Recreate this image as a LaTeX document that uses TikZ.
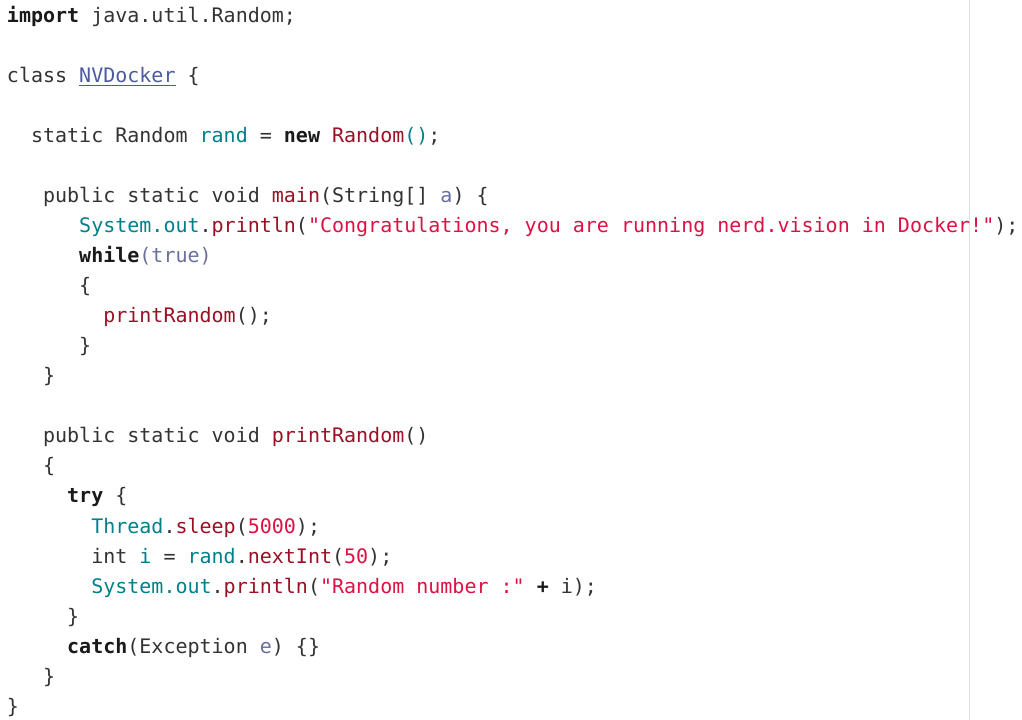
\documentclass[tikz,border=0pt]{standalone}
\usepackage{fontspec}
\newfontfamily\cm{DejaVu Sans Mono}
\definecolor{base}{HTML}{333333}
\definecolor{kw}{HTML}{1A1A1A}
\definecolor{tl}{HTML}{00808A}
\definecolor{dr}{HTML}{9B1024}
\definecolor{st}{HTML}{DD1144}
\definecolor{pa}{HTML}{6A6F9E}
\definecolor{cl}{HTML}{4C5BA0}
\newcommand\K[1]{\textbf{\textcolor{kw}{#1}}}
\newcommand\T[1]{\textcolor{tl}{#1}}
\newcommand\R[1]{\textcolor{dr}{#1}}
\newcommand\St[1]{\textcolor{st}{#1}}
\newcommand\Pa[1]{\textcolor{pa}{#1}}
\begin{document}
\begin{tikzpicture}[x=0.75pt,y=-0.75pt,
  ln/.style={anchor=base west,inner sep=0pt,outer sep=0pt,font=\cm\fontsize{15pt}{18pt}\selectfont,text=base}]
\useasboundingbox[fill=white] (0,0) rectangle (1022,720);
\draw[draw=black!12,line width=0.75pt] (969,0) -- (969,720);
\def\cw{12.04}
\node[ln] (l1) at (7,23) {\K{import} java.util.Random;};
\node[ln] (l3) at (7,83) {class \textcolor{cl}{\underline{NVDocker}} \{};
\node[ln] (l5) at (7+2*\cw,143) {static Random \T{rand} = \K{new} \R{Random}\T{()};};
\node[ln] (l7) at (7+3*\cw,203) {public static void \R{main}(String[] \Pa{a}) \{};
\node[ln] (l8) at (7+6*\cw,233) {\T{System.out}.\R{println}(\St{"Congratulations, you are running nerd.vision in Docker!"});};
\node[ln] (l9) at (7+6*\cw,263) {\K{while}\Pa{(true)}};
\node[ln] (l10) at (7+6*\cw,293) {\{};
\node[ln] (l11) at (7+8*\cw,323) {\R{printRandom}();};
\node[ln] (l12) at (7+6*\cw,353) {\}};
\node[ln] (l13) at (7+3*\cw,383) {\}};
\node[ln] (l15) at (7+3*\cw,443) {public static void \R{printRandom}()};
\node[ln] (l16) at (7+3*\cw,473) {\{};
\node[ln] (l17) at (7+5*\cw,503) {\K{try} \{};
\node[ln] (l18) at (7+7*\cw,533) {\T{Thread}.\R{sleep}(\St{5000});};
\node[ln] (l19) at (7+7*\cw,563) {int \T{i} = \T{rand}.\R{nextInt}(\St{50});};
\node[ln] (l20) at (7+7*\cw,593) {\T{System.out}.\R{println}(\St{"Random number :"} \K{+} i);};
\node[ln] (l21) at (7+5*\cw,623) {\}};
\node[ln] (l22) at (7+5*\cw,653) {\K{catch}(Exception \Pa{e}) \{\}};
\node[ln] (l23) at (7+3*\cw,683) {\}};
\node[ln] (l24) at (7,713) {\}};
\end{tikzpicture}
\end{document}
